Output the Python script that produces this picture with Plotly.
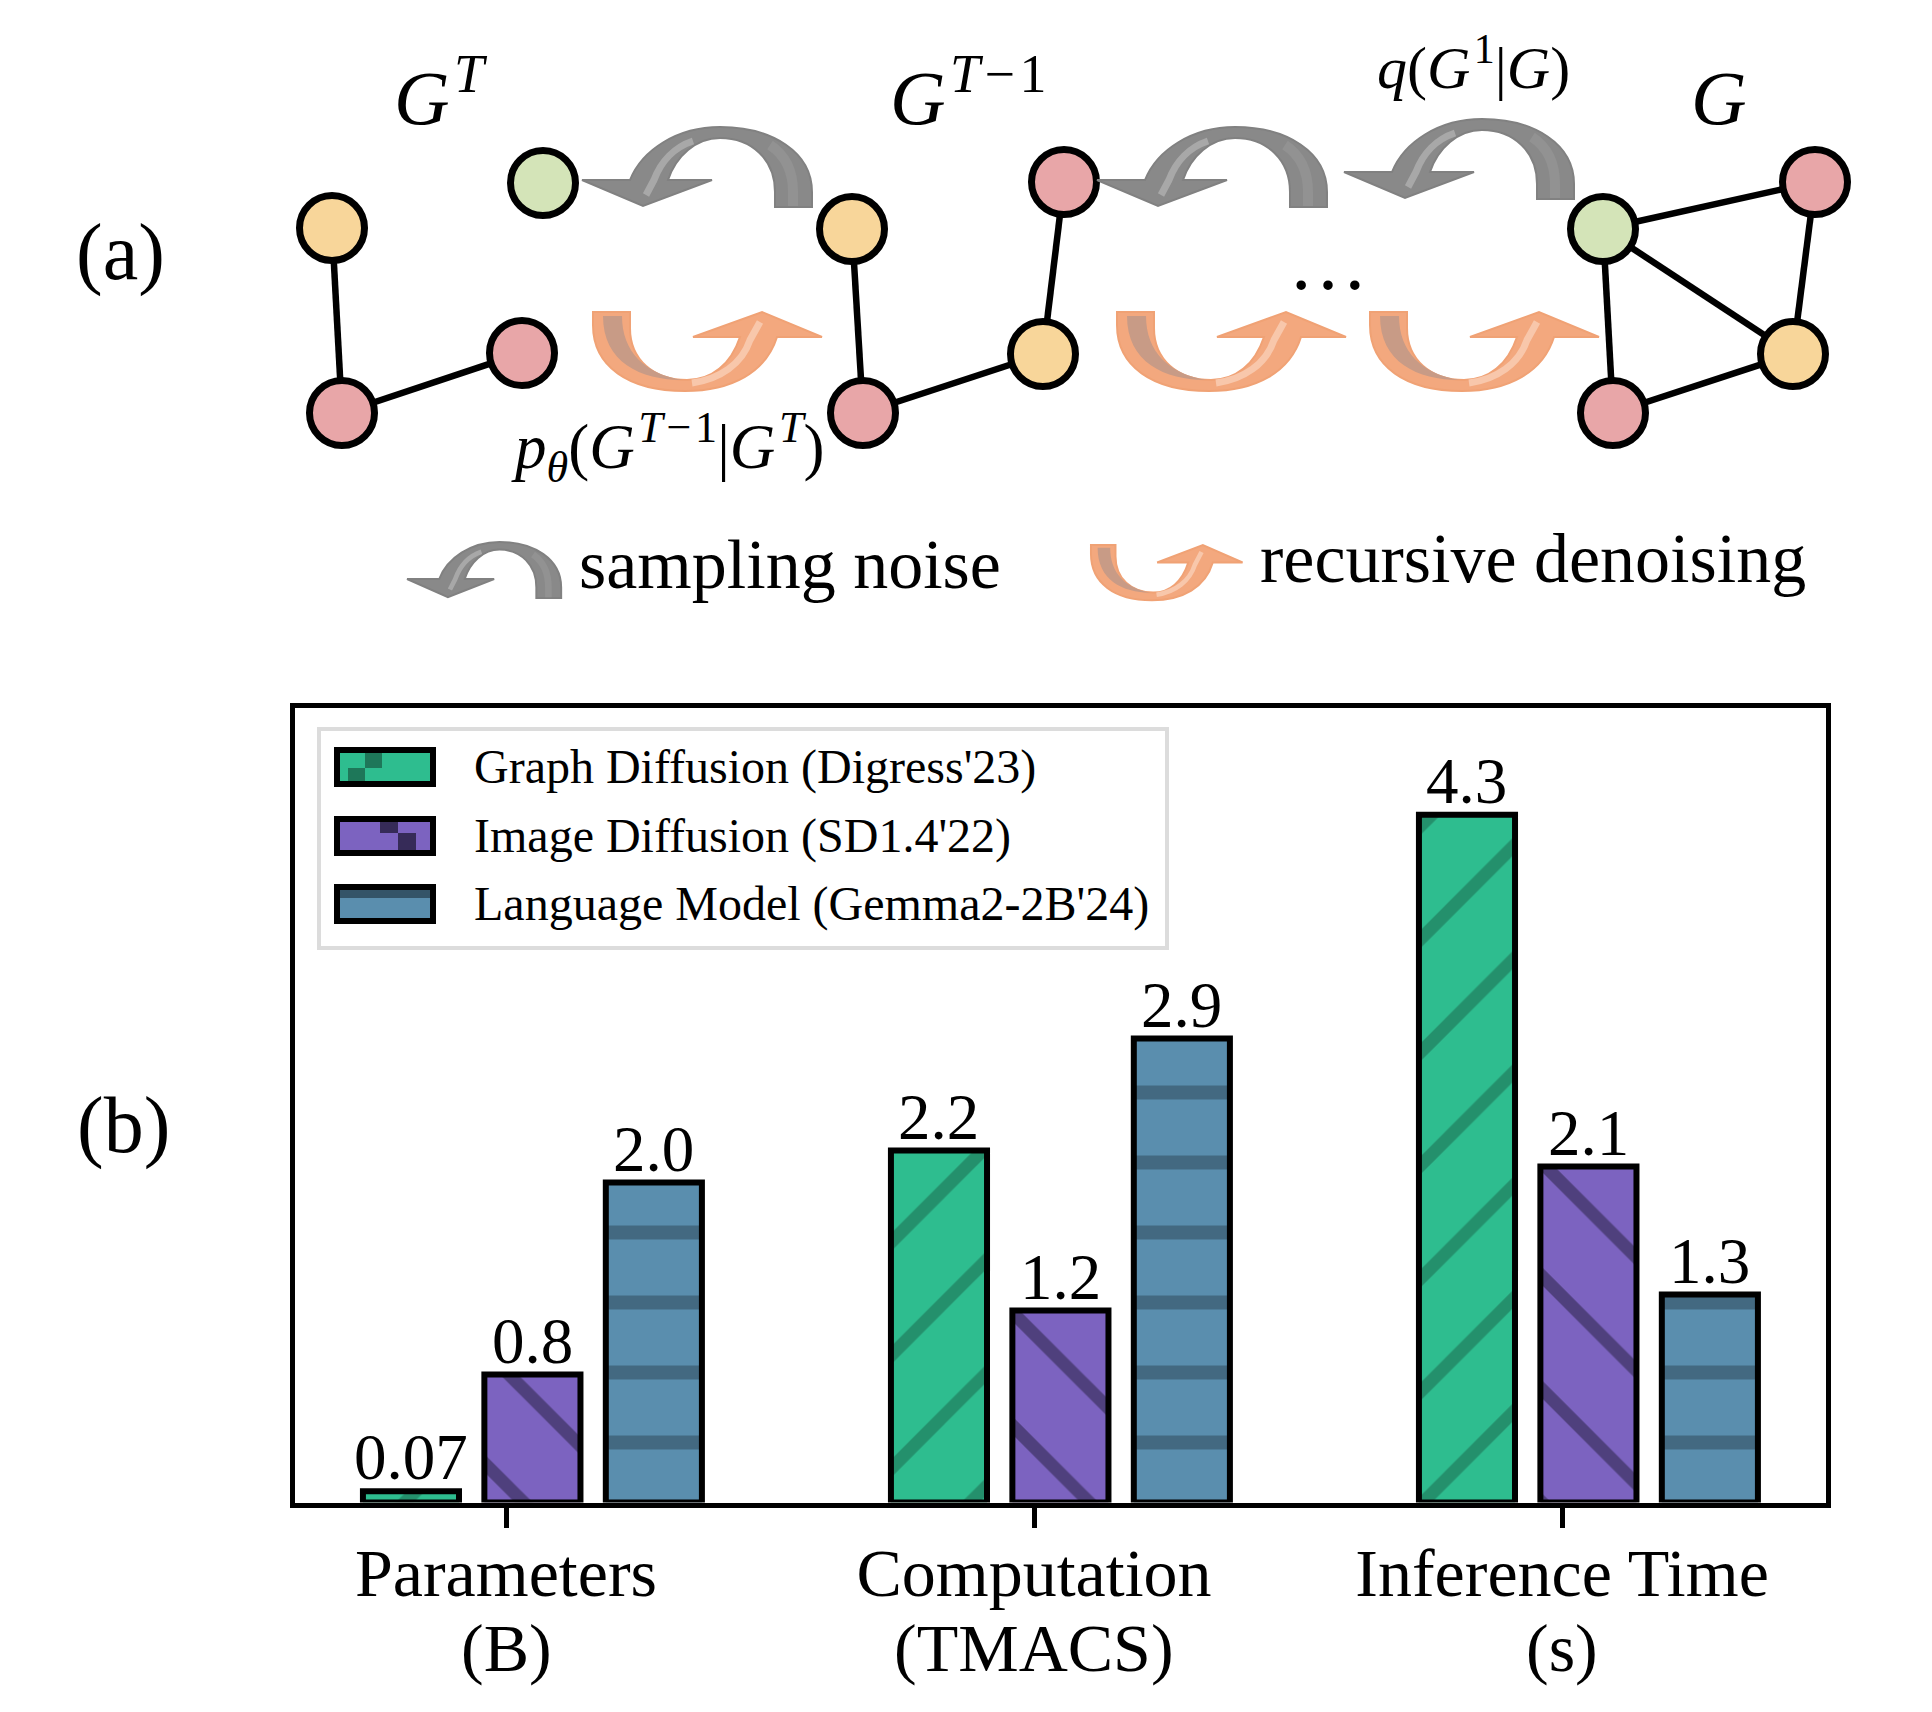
import plotly.graph_objects as go

# Page is 1932x1712; the html body keeps an 8 px margin, so the figure is
# 16 px smaller and all pixel positions below are page positions.
PAGE_W, PAGE_H = 1932, 1712
OFF = 8
W, H = PAGE_W - 2 * OFF, PAGE_H - 2 * OFF

# ---------------- data ----------------
categories = ["Parameters", "Computation", "Inference Time"]
units = ["(B)", "(TMACS)", "(s)"]
series_names = ["Graph Diffusion (Digress'23)",
                "Image Diffusion (SD1.4'22)",
                "Language Model (Gemma2-2B'24)"]
graph_diffusion = [0.07, 2.2, 4.3]
image_diffusion = [0.8, 1.2, 2.1]
language_model = [2.0, 2.9, 1.3]
graph_labels = ["0.07", "2.2", "4.3"]
image_labels = ["0.8", "1.2", "2.1"]
language_labels = ["2.0", "2.9", "1.3"]

series_values = [graph_diffusion, image_diffusion, language_model]
series_labels = [graph_labels, image_labels, language_labels]

# ---------------- styles ----------------
FONT = "Liberation Serif"
bar_colors = ["#2EBD8F", "#7C63C0", "#5A8EAE"]
hatch_colors = ["#1B6B50", "#2A2145", "#2E4A5C"]
hatch_shapes = ["/", "\\", "-"]
hatch_sizes = [80, 80, 70]
hatch_solidity = [0.16, 0.16, 0.2]
bar_centers = [-0.18, 0.05, 0.28]
bar_width = 0.182


def px(x):
    return (x - OFF) / W


def py(y):
    return 1 - (y - OFF) / H


def tpath(s, ox, oy, sx=1.0, sy=1.0):
    toks = s.replace(",", " ").split()
    out = []
    nums = []
    for t in toks:
        if t.isalpha():
            out.append(t)
        else:
            nums.append(float(t))
            if len(nums) == 2:
                x = ox + nums[0] * sx
                y = oy + nums[1] * sy
                out.append(f"{px(x):.5f},{py(y):.5f}")
                nums = []
    return " ".join(out)


fig = go.Figure()

# ---------------- bars ----------------
x_idx = list(range(len(categories)))
for i in range(3):
    fig.add_trace(go.Bar(
        x=x_idx, y=series_values[i], name=series_names[i],
        width=bar_width, offset=bar_centers[i] - bar_width / 2,
        marker=dict(color=bar_colors[i], line=dict(color="black", width=6),
                    pattern=dict(shape=hatch_shapes[i], fgcolor=hatch_colors[i],
                                 fgopacity=0.55, size=hatch_sizes[i],
                                 solidity=hatch_solidity[i])),
        showlegend=False, hoverinfo="skip"))
    for j in x_idx:
        fig.add_annotation(x=j + bar_centers[i], y=series_values[i][j], xref="x", yref="y",
                           text=series_labels[i][j], showarrow=False,
                           yanchor="bottom", yshift=-4,
                           font=dict(family=FONT, size=65, color="black"))

# units under tick labels
for j in x_idx:
    fig.add_annotation(x=j, y=py(1648), xref="x", yref="paper", text=units[j],
                       showarrow=False, yanchor="middle",
                       font=dict(family=FONT, size=68, color="black"))

shapes = []

# ---------------- custom legend ----------------
shapes.append(dict(type="rect", xref="paper", yref="paper",
                   x0=px(319), x1=px(1167), y0=py(948), y1=py(729),
                   line=dict(color="#dcdcdc", width=4), fillcolor="white"))
row_y = [767, 836, 904]
for i in range(3):
    c = row_y[i]
    shapes.append(dict(type="rect", xref="paper", yref="paper",
                       x0=px(337), x1=px(433), y0=py(c + 17), y1=py(c - 17),
                       line=dict(color="black", width=6), fillcolor=bar_colors[i]))
    if i == 0:
        bits = [(365, 382, c - 14, c + 1), (348, 365, c + 1, c + 14)]
    elif i == 1:
        bits = [(380, 398, c - 14, c - 3), (398, 416, c - 3, c + 14)]
    else:
        bits = [(340, 430, c - 14, c - 6)]
    for (a, b, t, u) in bits:
        shapes.append(dict(type="rect", xref="paper", yref="paper",
                           x0=px(a), x1=px(b), y0=py(u), y1=py(t),
                           line=dict(width=0), fillcolor=hatch_colors[i], opacity=0.85))
    fig.add_annotation(x=px(472), y=py(c), xref="paper", yref="paper",
                       text=series_names[i], showarrow=False, xanchor="left", yanchor="middle",
                       font=dict(family=FONT, size=48, color="black"))

# ---------------- panel (a) diagram ----------------
node_colors = {"y": "#F8D69A", "p": "#E8A6A8", "g": "#D4E4B8"}
graphs = [
    ([(332, 228, "y"), (342, 413, "p"), (522, 353, "p"), (543, 183, "g")],
     [(0, 1), (1, 2)]),
    ([(852, 229, "y"), (863, 413, "p"), (1043, 354, "y"), (1064, 182, "p")],
     [(0, 1), (1, 2), (2, 3)]),
    ([(1603, 229, "g"), (1815, 182, "p"), (1793, 354, "y"), (1613, 413, "p")],
     [(0, 1), (0, 2), (1, 2), (0, 3), (3, 2)]),
]
R = 32.5
for nodes, edges in graphs:
    for a, b in edges:
        shapes.append(dict(type="line", xref="paper", yref="paper",
                           x0=px(nodes[a][0]), y0=py(nodes[a][1]),
                           x1=px(nodes[b][0]), y1=py(nodes[b][1]),
                           line=dict(color="black", width=6.5)))
for nodes, edges in graphs:
    for (cx, cy, col) in nodes:
        shapes.append(dict(type="circle", xref="paper", yref="paper",
                           x0=px(cx - R), x1=px(cx + R), y0=py(cy + R), y1=py(cy - R),
                           fillcolor=node_colors[col], line=dict(color="black", width=7)))

GRAY_BODY = ("M 232 107 L 232 92 C 232 52 192 27 140 27 C 97 27 62 50 50 80 "
             "L 2 80 L 63 106 L 132 80 L 88 80 C 96 56 116 38 140 38 "
             "C 172 38 195 60 195 92 L 195 107 Z")
GRAY_STRIPE = "M 113 41 C 95 47 81 61 74 80 L 66 95"
GRAY_LEG = "M 213 106 L 213 92 C 213 70 205 55 190 45"
ORANGE_BODY = ("M 3 12 L 3 25 C 3 66 38 91 95 91 C 142 91 176 72 187 37 "
               "L 232 37 L 172 12 L 103 37 L 150 37 C 141 64 122 80 97 80 "
               "C 64 80 40 60 40 28 L 40 12 Z")
ORANGE_DARK = "M 13 16 L 32 16 C 32 52 55 74 93 80 C 50 80 13 62 13 16 Z"
ORANGE_LIGHT = "M 102 83 C 130 79 152 64 160 40 L 170 22"


def gray_arrow(ox, oy, sx=1.0, sy=1.0):
    return [
        dict(type="path", xref="paper", yref="paper", path=tpath(GRAY_BODY, ox, oy, sx, sy),
             fillcolor="#898989", line=dict(color="#818181", width=2)),
        dict(type="path", xref="paper", yref="paper", path=tpath(GRAY_LEG, ox, oy, sx, sy),
             line=dict(color="#929292", width=10 * sx)),
        dict(type="path", xref="paper", yref="paper", path=tpath(GRAY_STRIPE, ox, oy, sx, sy),
             line=dict(color="#a8a8a8", width=7 * sx)),
    ]


def orange_arrow(ox, oy, sx=1.0, sy=1.0):
    return [
        dict(type="path", xref="paper", yref="paper", path=tpath(ORANGE_BODY, ox, oy, sx, sy),
             fillcolor="#F3A87E", line=dict(color="#F0A275", width=2)),
        dict(type="path", xref="paper", yref="paper", path=tpath(ORANGE_DARK, ox, oy, sx, sy),
             fillcolor="#C89B86", line=dict(width=0)),
        dict(type="path", xref="paper", yref="paper", path=tpath(ORANGE_LIGHT, ox, oy, sx, sy),
             line=dict(color="#F8C7AB", width=7 * sx)),
    ]


for (ox, oy) in [(580, 100), (1095, 100), (1342, 92)]:
    shapes += gray_arrow(ox, oy)
for (ox, oy) in [(590, 300), (1114, 300), (1367, 300)]:
    shapes += orange_arrow(ox, oy)
shapes += gray_arrow(405.7, 523, 0.67, 0.70)
shapes += orange_arrow(1089, 536.6, 0.662, 0.70)


def label(x, y, text, size, xanchor="left", yanchor="bottom"):
    fig.add_annotation(x=px(x), y=py(y), xref="paper", yref="paper", text=text,
                       showarrow=False, xanchor=xanchor, yanchor=yanchor,
                       font=dict(family=FONT, size=size, color="black"))


HS = "\u200a"
label(120, 252, "(a)", 80, "center", "middle")
label(123, 1125, "(b)", 80, "center", "middle")
label(392, 143, "<i>G</i><sup>" + HS + "<i>T</i></sup>", 77)
label(888, 143, "<i>G</i><sup>" + HS + "<i>T</i>" + HS + "−" + HS + "1</sup>", 77)
label(1689, 143, "<i>G</i>", 77)
label(1375, 103, "<i>q</i>(<i>G</i><sup>" + HS + "1</sup>|<i>G</i>)", 60)
label(509, 494, "<i>p</i><sub><i>θ</i></sub>(<i>G</i><sup>" + HS + "<i>T</i>" + HS + "−" + HS
      + "1</sup>|<i>G</i><sup>" + HS + "<i>T</i></sup>)", 63)
label(1328, 308, "…", 80, "center", "bottom")
label(577, 564, "sampling noise", 70, "left", "middle")
label(1258, 558, "recursive denoising", 70, "left", "middle")

fig.update_layout(
    width=W, height=H, margin=dict(l=0, r=0, t=0, b=0),
    paper_bgcolor="white", plot_bgcolor="white",
    barmode="overlay", shapes=shapes,
    xaxis=dict(domain=[px(294.5), px(1825.5)], range=[-0.4006, 2.499],
               tickvals=x_idx, ticktext=categories,
               showline=True, mirror=True, linecolor="black", linewidth=5,
               ticks="outside", ticklen=20, tickwidth=5, tickcolor="black",
               ticklabelstandoff=-13,
               showgrid=False, zeroline=False, fixedrange=True,
               tickfont=dict(family=FONT, size=68, color="black")),
    yaxis=dict(domain=[py(1502.5), py(707.5)], range=[0, 4.97],
               showline=True, mirror=True, linecolor="black", linewidth=5,
               showticklabels=False, ticks="", showgrid=False, zeroline=False,
               fixedrange=True),
)

fig.write_html("out.html")
